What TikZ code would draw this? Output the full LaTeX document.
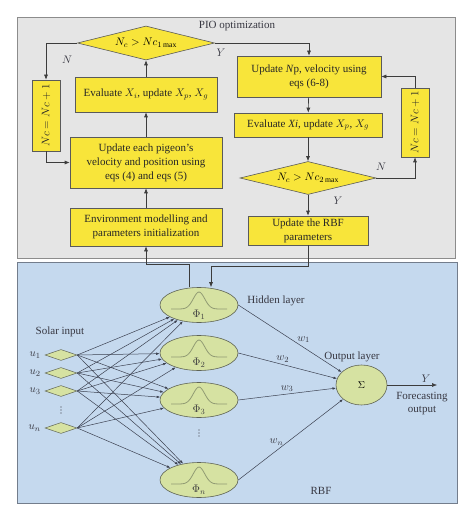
\documentclass[tikz,border=0pt]{standalone}
\usepackage{fontspec}
\setmainfont{Liberation Serif}
\usepackage{graphicx}
\usepackage{tikz}
\usetikzlibrary{positioning, arrows.meta, shapes.geometric, calc}
\definecolor{panelgray}{RGB}{229,229,229}
\definecolor{graybord}{RGB}{140,140,140}
\definecolor{panelblue}{RGB}{197,217,238}
\definecolor{bluebord}{RGB}{115,125,140}
\definecolor{boxyellow}{RGB}{248,229,58}
\definecolor{boxline}{RGB}{90,90,90}
\definecolor{nodegreen}{RGB}{214,226,162}
\definecolor{nodeline}{RGB}{95,100,85}
\definecolor{bellclr}{RGB}{145,155,115}
\definecolor{lineclr}{RGB}{60,60,60}
\definecolor{netline}{RGB}{60,65,80}
\definecolor{labelclr}{RGB}{55,55,65}

\begin{document}
\begin{tikzpicture}[x=1pt, y=-1pt,
    box/.style={draw=boxline, fill=boxyellow, font=\fontsize{11}{14}\selectfont, align=center, inner sep=1pt, line width=0.6pt, text=black!85},
    dec/.style={diamond, draw=boxline, fill=boxyellow, aspect=4, inner sep=0pt, font=\fontsize{11}{13}\selectfont, line width=0.6pt},
    arr/.style={-{Latex[length=5pt, width=4pt]}, draw=lineclr, line width=0.6pt},
    neuron/.style={ellipse, draw=nodeline, fill=nodegreen, minimum width=78pt, minimum height=35pt, inner sep=0pt, line width=0.6pt},
    inp/.style={diamond, draw=nodeline, fill=nodegreen, aspect=3, minimum width=32pt, minimum height=11pt, inner sep=0pt, line width=0.5pt},
    link/.style={-{Latex[length=3.5pt, width=2.5pt]}, draw=netline, line width=0.5pt},
    txt/.style={font=\fontsize{11}{13}\selectfont, text=labelclr, align=center, inner sep=0pt},
    bell/.style={draw=bellclr, line width=0.8pt},
    dot/.style={fill=labelclr},
]
\useasboundingbox (0,0) rectangle (474,521);

% panels
\draw[fill=panelgray, draw=graybord, line width=0.8pt] (17,17) rectangle (455,258);
\draw[fill=panelblue, draw=bluebord, line width=0.8pt] (17,262) rectangle (457,503);
\node[txt] (piotitle) at (237,26) {PIO optimization};
\node[txt] (rbftitle) at (321,491) {RBF};

% PIO flowchart
\node[dec, minimum width=137pt, minimum height=34pt] (dia1) at (146,43) {$N_c > Nc_{1\max}$};
\node[box, minimum width=142pt, minimum height=35pt] (eval1) at (146,94.5) {Evaluate $X_i$, update $X_p$, $X_g$};
\node[box, minimum width=152pt, minimum height=51pt] (upd) at (146,162.5) {Update each pigeon's\\velocity and position using\\eqs (4) and eqs (5)};
\node[box, minimum width=152pt, minimum height=38pt] (env) at (146,227) {Environment modelling and\\parameters initialization};
\node[box, minimum width=28pt, minimum height=71pt] (nc1) at (46,115.5) {\rotatebox{90}{$Nc = Nc + 1$}};

\node[box, minimum width=144pt, minimum height=41pt] (updnp) at (309,76.5) {Update \textit{N}p, velocity using\\eqs (6-8)};
\node[box, minimum width=148pt, minimum height=24pt] (eval2) at (308,125) {Evaluate \textit{Xi}, update $X_p$, $X_g$};
\node[dec, minimum width=136pt, minimum height=33pt] (dia2) at (308,178) {$N_c > Nc_{2\max}$};
\node[box, minimum width=120pt, minimum height=29pt] (rbf) at (308,230.5) {Update the RBF\\parameters};
\node[box, minimum width=28pt, minimum height=69pt] (nc2) at (415,122.5) {\rotatebox{90}{$Nc = Nc + 1$}};

\node[txt] (n1lbl) at (67,60) {$N$};
\node[txt] (y1lbl) at (221,53) {$Y$};
\node[txt] (n2lbl) at (381,167) {$N$};
\node[txt] (y2lbl) at (338,201) {$Y$};

\draw[arr] (env) -- (upd);
\draw[arr] (upd) -- (eval1);
\draw[arr] (eval1) -- (dia1);
\draw[arr] (dia1.west) -| (nc1.north);
\draw[arr] (nc1.south) |- (upd.west);
\draw[arr] (dia1.east) -| (updnp.north);
\draw[arr] (updnp) -- (eval2);
\draw[arr] (eval2) -- (dia2);
\draw[arr] (dia2.east) -| (nc2.south);
\draw[arr] (nc2.north) |- (updnp.east);
\draw[arr] (dia2) -- (rbf);

% RBF network
\foreach \b/\y in {1/305, 2/353, 3/400, n/480} {
  \node[neuron] (h\b) at (199,\y) {};
  \begin{scope}[shift={(h\b.center)}]
    \draw[bell] plot[domain=-28:28, samples=45] (\x, {4-17*exp(-(\x/8)^2)});
  \end{scope}
  \node[txt, text=black!75] (phi\b) at ([yshift=-10pt]h\b.center) {$\Phi_{\b}$};
}
\foreach \d in {-3,0,3}
  \fill[dot] (199,433+\d) circle (0.6pt);

\foreach \a/\y in {1/355, 2/373, 3/391, n/428}
  \node[inp, label={[txt, label distance=4pt]left:$u_{\a}$}] (u\a) at (61,\y) {};
\foreach \d in {-3,0,3}
  \fill[dot] (61,410+\d) circle (0.6pt);
\node[txt] (solar) at (60,332) {Solar input};

\foreach \a in {1,2,3,n}
  \foreach \b in {1,2,3,n}
    \draw[link] (u\a.east) -- (h\b);

\node[neuron, minimum width=51pt, minimum height=40pt] (sum) at (361.5,385) {$\Sigma$};
\node[txt] (hidlbl) at (276,301) {Hidden layer};
\node[txt] (outlbl) at (352,357) {Output layer};

\draw[link] (h1.east) -- (sum) node[txt, pos=0.55, above right=-1pt and 2pt] (w1) {$w_1$};
\draw[link] (h2.east) -- (sum) node[txt, pos=0.45, above=2pt] (w2) {$w_2$};
\draw[link] (h3.east) -- (sum) node[txt, pos=0.5, above=2pt] (w3) {$w_3$};
\draw[link] (hn.east) -- (sum) node[txt, pos=0.45, above left=-2pt and 2pt] (wn) {$w_n$};

\coordinate (yout) at (437,385);
\draw[arr, line width=0.5pt] (sum) -- (yout);
\node[txt] (ylbl) at (426,379) {$Y$};
\node[txt] (forecast) at (422,404) {Forecasting\\output};

% links between the two panels
\draw[arr] ([xshift=-10pt]h1.north) |- ([yshift=-18pt]env.south) -- (env.south);
\draw[arr] (rbf.south) |- ([xshift=12pt, yshift=21pt]h1.north) -- ([xshift=12pt]h1.north);
\end{tikzpicture}
\end{document}
